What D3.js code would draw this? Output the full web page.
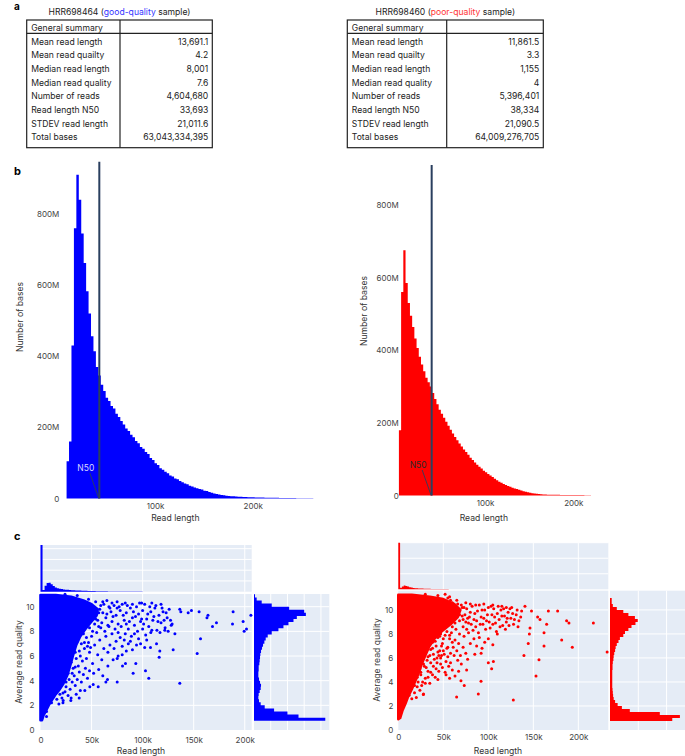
<!DOCTYPE html>
<html>
<head>
<meta charset="utf-8">
<script src="https://cdn.jsdelivr.net/npm/d3@7"></script>
<style>
body{margin:0;background:#fff;}
text{font-family:Inter,"Noto Sans",sans-serif;}
</style>
</head>
<body>
<div id="canvas"></div>
<script>
// ---- data ----
var summaryLabels = ['Mean read length','Mean read quailty','Median read length','Median read quality',
    'Number of reads','Read length N50','STDEV read length','Total bases'];
var goodSummary = ['13,691.1','4.2','8,001','7.6','4,604,680','33,693','21,011.6','63,043,334,395'];
var poorSummary = ['11,861.5','3.3','1,155','4','5,396,401','38,334','21,090.5','64,009,276,705'];

// weighted read-length histogram, bases (M) per 2.5k bin
var binWidth = 2.5;
var goodBinStart = 9.5;
var goodBases = [105,160,430,760,910,840,745,662,583,520,456,414,370,346,320,302,283,274,260,253,
    238,229,218,208,197,190,179,172,162,155,145,140,131,125,114,108,99,94,85,81,
    75,71,65,62,56,54,49,46,42,40,36,34,31,29,27,25,22,21,18,16,
    14,13,11,10,9,8,7,6.5,6,5.4,5,4.6,4.2,4,3.7,3.5,3.3,3.1,3,2.8,
    2.6,2.4,2.2,2.1,2,1.9,1.8,1.7,1.6,1.5,1.4,1.3,1.2,1.1,1,1,0.9,0.8,0.8,0.7,0.7];
var poorBinStart = 2.5;
var poorBases = [180,560,675,585,530,495,464,432,406,382,361,342,324,312,300,282,266,251,236,225,
    214,203,192,181,171,161,152,143,135,127,120,112,104,98,91,85,79,74,68,64,
    59,55,51,46,42,38,35,32,29,26,24,21,19,18,16,14,12,10.5,9,7.5,
    6.5,5.5,4.5,3.8,3.3,3,2.7,2.4,2.2,2,1.9,1.8,1.8,1.7,1.6,1.6,1.5,1.5,1.4,1.4,
    1.3,1.2,1.2,1.1,1,1,0.9];
var goodN50Mark = 43;   // k, where the N50 line sits on the axis
var poorN50Mark = 39.6;
var histYTicks = [0,200,400,600,800];
var histXTicks = [100,200];

// scatter: solid core outline [k, quality]
var goodCore = [[0,0.8],[1.5,0.8],[3,1.2],[5,1.5],[8,2.0],[11,2.4],[14,2.8],[18,3.2],[22,3.7],[26,4.4],
    [29,5.2],[32,6.1],[35,6.9],[39,7.6],[44,8.2],[50,8.8],[55,9.3],[56,9.8],[50,10.2],[42,10.5],
    [30,10.8],[15,10.95],[0,10.95]];
var goodPoints = [
    [13,2.7],[16,2.5],[19,2.9],[21,2.6],[24,3.1],[27,2.8],[25,3.5],[29,3.3],[31,3.9],[34,3.6],
    [33,4.4],[36,4.1],[38,4.7],[40,3.9],[42,4.5],[37,5.2],[44,5.0],[41,5.6],[46,4.2],[48,4.8],
    [39,3.2],[35,2.9],[30,2.6],[22,2.2],[18,2.1],
    [20,3.6],[23,4.3],[26,5.0],[28,5.8],[31,6.6],[33,7.3],[37,7.9],[41,8.4],[46,8.8],[52,9.3],
    [57,9.5],[59,10.1],[54,10.4],[47,10.6],[36,10.9],[24,11.0],
    [22,3.0],[25,3.9],[27,4.6],[30,5.5],[32,5.0],[34,6.3],[36,7.2],[38,6.4],[40,7.0],[42,7.8],
    [45,7.5],[48,8.3],[51,8.0],[53,8.6],[54,9.0],[57,8.4],[35,5.8],[39,6.0],[43,7.1],[46,6.8],
    [49,6.7],[28,4.1],[31,4.6],[34,5.1],
    [45,5.8],[48,6.3],[51,5.4],[53,6.9],[56,6.1],[58,7.3],[60,5.7],[62,6.6],[64,7.6],[66,5.2],
    [68,6.9],[70,7.8],[47,7.1],[50,7.6],[55,7.9],[43,6.6],[52,4.6],[57,4.9],[61,4.4],[66,6.3],
    [72,6.6],[74,7.2],[76,6.0],[78,7.5],[80,6.8],[63,8.0],[59,8.3],[67,8.4],
    [58,9.8],[62,10.2],[65,9.4],[68,9.9],[70,8.8],[72,10.1],[74,9.3],[76,8.6],[78,9.7],[80,10.2],
    [82,8.9],[84,9.5],[86,8.2],[88,9.9],[90,9.1],[92,8.5],[94,10.0],[96,9.4],[98,8.8],[100,9.7],
    [102,10.2],[104,9.0],[106,8.4],[108,9.6],[110,8.9],[112,9.9],[114,8.1],[116,9.3],[118,8.7],[120,9.6],
    [122,8.3],[124,9.1],[126,9.8],[128,8.5],
    [60,8.7],[64,9.1],[66,8.5],[69,9.6],[73,8.2],[75,9.9],[79,8.4],[81,9.3],[83,7.8],[85,10.1],
    [87,8.8],[89,7.6],[91,9.6],[93,9.2],[95,8.0],[97,10.3],[99,9.0],[101,8.6],[103,7.7],[105,9.4],
    [107,10.0],[109,8.1],[111,9.2],[113,10.1],[115,8.8],[117,7.9],[119,9.9],[121,8.9],[123,9.5],[125,8.0],
    [56,8.9],[61,9.5],[67,10.0],[71,9.2],[77,10.0],[84,8.6],[88,7.2],[92,7.8],[96,7.4],[100,8.2],
    [104,7.3],[108,7.9],[82,7.3],[76,7.9],[94,6.9],[98,7.0],[86,7.0],[90,6.5],[102,6.7],[80,6.1],[84,6.4],
    [61,10.4],[65,10.5],[70,10.3],[75,10.4],[83,10.3],[90,10.2],[99,10.3],[109,10.3],[118,10.2],
    [206,9.3],[199.4,8.0],[201.7,8.2],[198.4,8.8],[188.6,9.6],[188,8.6],[168.4,8.4],[172.3,8.7],[164,9.3],[163,9.1],
    [155.3,9.6],[147.8,9.7],[144.6,9.5],[136.4,9.8],[137.4,9.6],[156.7,7.4],[153.4,6.2],[136.4,3.8],[129.9,6.5],[131.6,7.8],
    [127.3,8.9],[128.9,8.6],[121.7,8.1],[116.2,5.9],[116.8,6.4],[113.6,7.0],[107.7,6.7],[106,4.2],[102.8,4.8],[93.3,5.4],
    [90.7,4.6],[83.2,5.4],[80.3,5.2],[75.1,3.9],[75.1,5.8],[71.1,5.7],[64,3.9],[65.6,4.1],[56.5,3.5],[51.6,3.7],
    [48.3,3.5],[43.4,3.2],[37.9,2.6],[29.7,2.4],[22.2,2.4],[10.8,2.2],[5.9,1.5],[5.9,1.1]];

var poorCore = [[0,0.9],[2,1.0],[4.5,1.6],[8,2.2],[11,2.8],[15,3.4],[19,4.1],[23,4.8],[26,5.5],[30,6.2],
    [34,6.9],[40,7.6],[48,8.2],[58,8.8],[66,9.4],[69,10.0],[62,10.5],[50,10.9],[35,11.1],[15,11.25],[0,11.25]];
var poorPoints = [
    [12,2.9],[15,2.6],[18,3.1],[21,3.6],[24,3.3],[27,4.0],[25,4.6],[30,4.3],[33,4.9],[29,5.3],
    [36,5.6],[38,4.6],[40,5.9],[35,3.9],[42,5.1],[45,6.2],[44,4.2],[47,5.5],[20,2.7],[28,3.0],
    [50,6.6],[53,5.7],[55,6.9],[48,7.0],[58,6.4],[52,4.8],[60,7.3],[57,4.3],
    [18,3.7],[21,4.4],[24,5.1],[27,5.9],[31,6.6],[35,7.3],[40,7.9],[45,8.4],[52,8.7],[56,9.2],
    [62,9.3],[68,9.6],[71,10.2],[65,10.8],[57,11.1],[44,11.2],[30,11.3],
    [22,4.0],[25,4.8],[28,5.5],[31,5.2],[33,6.1],[36,6.7],[38,7.3],[42,7.0],[44,7.7],[47,8.0],
    [50,7.6],[54,8.2],[57,7.9],[60,8.6],[63,8.9],[39,6.3],[43,6.0],[46,6.6],[48,6.2],[26,3.7],
    [30,3.9],[33,4.4],
    [38,6.8],[41,7.4],[44,6.5],[46,7.8],[49,7.2],[52,7.9],[54,6.8],[57,7.6],[59,8.1],[61,6.9],
    [63,7.5],[65,6.6],[67,7.2],[69,6.2],[72,6.9],[75,6.4],[77,5.9],[70,5.5],[66,5.8],[62,6.2],
    [58,5.6],[55,6.1],[51,6.3],[47,6.0],[43,5.6],[39,5.3],[36,4.8],[41,4.4],[45,4.9],[49,5.2],
    [53,4.6],[56,5.3],[60,5.0],[63,4.5],[67,4.9],[35,6.2],[32,5.8],
    [70,10.4],[74,9.6],[76,10.1],[78,8.9],[80,9.8],[82,10.3],[84,9.2],[86,8.6],[88,9.9],[90,10.4],
    [92,9.4],[94,8.8],[96,10.0],[98,9.1],[100,10.2],[102,8.5],[104,9.6],[106,10.1],[108,8.9],[110,9.7],
    [112,9.2],[114,10.0],[116,8.7],[118,9.5],[120,9.0],[122,9.8],[125,9.3],[128,8.8],[131,9.6],[134,9.1],
    [137,9.9],[126,10.2],[132,10.0],
    [72,8.6],[75,9.0],[79,9.4],[83,8.3],[85,9.7],[87,9.1],[89,8.1],[91,8.8],[93,10.0],[95,9.3],
    [97,8.4],[99,9.6],[101,9.0],[103,10.3],[105,8.8],[107,9.4],[109,8.2],[111,10.3],[113,8.6],[115,9.5],
    [117,10.1],[119,8.4],[121,9.3],[123,8.7],[127,9.7],[129,9.2],[133,8.6],[136,9.4],[124,10.1],
    [64,9.9],[66,10.5],[68,9.1],[71,9.5],[73,10.2],[77,9.3],[81,8.8],[60,10.6],[62,9.6],[58,10.8],
    [55,11.0],[52,11.3],[64,8.4],[68,8.0],[73,7.8],[78,8.1],[84,7.6],[90,7.7],[96,7.3],[80,7.2],
    [87,7.0],[93,6.8],[100,7.6],[105,7.1],[110,8.0],[92,6.4],[85,6.3],
    [75,10.6],[80,10.5],[86,10.4],[95,10.5],[105,10.4],[115,10.3],[120,10.2],[72,9.2],[76,8.4],
    [232,6.5],[216.7,8.9],[187,9.1],[189.6,8.9],[193.3,6.9],[181.5,7.5],[177,9.9],[166.7,9.9],[164.8,8.8],[161.9,8.1],
    [161.9,7.0],[157.4,9.2],[154.8,9.4],[148,9.9],[146.3,8.5],[145.6,8.0],[144.4,7.2],[156.3,5.85],[153,4.5],[139.6,6.2],
    [140.7,10.3],[127.8,2.5],[105.6,5.7],[103.7,5.1],[100,5.6],[91.9,4.05],[88.9,3.0],[75.9,5.0],[73.3,3.7],[69.6,4.1],
    [64.8,2.75],[27.8,2.95]];

// marginal histograms: read counts (k) per 2k length bin, per 0.25 quality bin
var lenBinWidth = 2, qualBinStart = 0.75, qualBinWidth = 0.25;
var goodLenCounts = [434,16,55,80,84,70,52,40,33,28,24,21,19,17,15,14,13,12,11,10,
    9.2,8.5,7.9,7.3,6.8,6.2,5.7,5.2,4.8,4.4,4.0,3.6,3.3,3.0,2.7,2.5,2.3,2.1,1.9,1.7,
    1.6,1.5,1.4,1.3,1.2,1.1,1.0,0.9,0.8,0.8,0.7,0.7,0.6,0.6,0.5,0.5,0.4,0.4,0.4,0.3];
var poorLenCounts = [300,10,18,24,22,18,14,11,9,7.5,6.5,5.8,5.2,4.6,4.1,3.7,3.3,3.0,2.7,2.4,
    2.2,2.0,1.8,1.6,1.5,1.4,1.3,1.2,1.1,1.0,0.9,0.8,0.7,0.7,0.6,0.6,0.5,0.5,0.4,0.4];
var goodQualCounts = [178,213,133,100,60,32,20,15,13,14,17,20,21,18,15,13,13,14,14,16,
    17,18,19,21,24,27,31,35,41,53,73,88,103,118,128,155,150,105,53,23,8,3];
var poorQualCounts = [150,220,247,176,70,42,27,18,13,11,10,9,8,8,8,8,8,8,9,9,
    10,12,13,15,18,20,24,30,35,47,53,65,76,90,98,88,65,47,24,10,6,6];
var scatterXTicks = [0,50,100,150,200];
var scatterYTicks = [0,2,4,6,8,10];

var blue = '#0000ff', red = '#ff0000', dark = '#2a3f5f', bg = '#e5ecf6';

var svg = d3.select('#canvas').append('svg')
    .attr('width',685)
    .attr('height',756);

// panel letters
svg.append('text').attr('x',14).attr('y',9.5).text('a').style('font-weight','bold').style('font-size','10px');
svg.append('text').attr('x',14).attr('y',175).text('b').style('font-weight','bold').style('font-size','11px');
svg.append('text').attr('x',14).attr('y',540).text('c').style('font-weight','bold').style('font-size','11px');

//a tables
function drawTable(x0, x1, xDiv, title, tag, tagColor, values){
    var g = svg.append('g');
    var t = g.append('text').attr('x',(x0+x1)/2).attr('y',14.5)
        .attr('text-anchor','middle').style('font-size','8.6px').attr('fill','#222');
    t.append('tspan').text(title + ' (');
    t.append('tspan').attr('fill',tagColor).text(tag);
    t.append('tspan').text(' sample)');
    g.append('rect').attr('x',x0).attr('y',20).attr('width',x1-x0).attr('height',127.7)
        .attr('fill','none').attr('stroke','#222').attr('stroke-width',1.2);
    g.append('line').attr('x1',xDiv).attr('x2',xDiv).attr('y1',20).attr('y2',147.7)
        .attr('stroke','#222').attr('stroke-width',1.2);
    g.append('line').attr('x1',x0).attr('x2',x1).attr('y1',33.3).attr('y2',33.3)
        .attr('stroke','#222').attr('stroke-width',1.2);
    g.append('text').attr('x',x0+4.5).attr('y',30.7).text('General summary')
        .style('font-size','8.6px').attr('fill','#222');
    summaryLabels.forEach(function(d,i){
        var y = 44.8 + i*13.66;
        g.append('text').attr('x',x0+4.5).attr('y',y).text(d).style('font-size','8.6px').attr('fill','#222');
        g.append('text').attr('x',x1-4).attr('y',y).text(values[i]).attr('text-anchor','end')
            .style('font-size','8.6px').attr('fill','#222');
    });
}
drawTable(26.7, 212.3, 120, 'HRR698464', 'good-quality', '#3333ff', goodSummary);
drawTable(347.3, 543.3, 446.7, 'HRR698460', 'poor-quality', '#ff3333', poorSummary);

//b histograms
function drawHist(o){
    var x = d3.scaleLinear().domain([0,o.xMax]).range([o.left,o.right]);
    var y = d3.scaleLinear().domain([0,o.yMax]).range([o.bottom,o.top]);
    var g = svg.append('g');
    // bins as one stepped shape so no seams show between bars
    var steps = o.bases.map(function(d,i){return [o.start + i*binWidth, d];});
    steps.push([o.start + o.bases.length*binWidth, o.bases[o.bases.length-1]]);
    g.append('path').datum(steps)
        .attr('d',d3.area().curve(d3.curveStepAfter)
            .x(function(d){return x(d[0]);}).y0(y(0)).y1(function(d){return y(d[1]);}))
        .attr('fill',o.color);

    var ya = g.append('g').attr('transform','translate('+(o.left+2)+',0)')
        .call(d3.axisLeft(y).tickValues(histYTicks).tickSize(0).tickPadding(0)
            .tickFormat(function(v){return v===0 ? '0' : v+'M';}));
    var xa = g.append('g').attr('transform','translate(0,'+o.bottom+')')
        .call(d3.axisBottom(x).tickValues(histXTicks).tickSize(0).tickPadding(5)
            .tickFormat(function(v){return v+'k';}));
    [ya,xa].forEach(function(a){
        a.select('.domain').remove();
        a.selectAll('text').style('font-size','8px').attr('fill','#444')
            .style('font-family','Inter,"Noto Sans",sans-serif');
    });

    // N50 marker
    var nx = x(o.n50);
    g.append('line').attr('x1',nx).attr('x2',nx).attr('y1',o.top).attr('y2',y(0))
        .attr('stroke',dark).attr('stroke-width',2);
    g.append('line').attr('x1',nx-9.5).attr('x2',nx-0.5).attr('y1',y(0)-25.5).attr('y2',y(0))
        .attr('stroke',dark).attr('stroke-width',0.9);
    g.append('text').attr('x',nx-13.5).attr('y',y(0)-28).attr('text-anchor','middle')
        .text('N50').style('font-size','8.5px').attr('fill',o.n50Color);

    g.append('text').attr('x',(o.left+o.right)/2 - 10).attr('y',521).attr('text-anchor','middle')
        .text('Read length').style('font-size','8.6px').attr('fill','#333');
    g.append('text').attr('transform','translate('+o.titleX+','+o.titleY+') rotate(-90)')
        .attr('text-anchor','middle').attr('dy','0.35em')
        .text('Number of bases').style('font-size','8.6px').attr('fill','#333');
}
drawHist({left:57.3, right:313.3, xMax:262, bottom:498.5, top:161.7, yMax:947,
    bases:goodBases, start:goodBinStart, color:blue, n50:goodN50Mark, n50Color:'#d8d8ff',
    titleX:19.5, titleY:317});
drawHist({left:396.7, right:591, xMax:220, bottom:495.5, top:165, yMax:910,
    bases:poorBases, start:poorBinStart, color:red, n50:poorN50Mark, n50Color:'#2a2a2a',
    titleX:364, titleY:311});

//c scatter with marginals
function drawScatter(o){
    var x = d3.scaleLinear().domain([0,o.xMax]).range([o.left,o.right]);
    var y = d3.scaleLinear().domain([0,o.yMax]).range([o.bottom,o.top]);
    var tc = d3.scaleLinear().domain([0,o.lenMax]).range([o.topBottom,o.topTop]);
    var rc = d3.scaleLinear().domain([0,o.qualMax]).range([o.rightLeft,o.rightRight]);
    var g = svg.append('g');

    // backgrounds
    g.append('rect').attr('x',o.left).attr('y',o.top).attr('width',o.right-o.left)
        .attr('height',o.bottom-o.top).attr('fill',bg);
    g.append('rect').attr('x',o.left).attr('y',o.topTop).attr('width',o.right-o.left)
        .attr('height',o.topBottom-o.topTop).attr('fill',bg);
    g.append('rect').attr('x',o.rightLeft).attr('y',o.top).attr('width',o.rightRight-o.rightLeft)
        .attr('height',o.bottom-o.top).attr('fill',bg);

    // grid
    scatterXTicks.slice(1).forEach(function(v){
        g.append('line').attr('x1',x(v)).attr('x2',x(v)).attr('y1',o.top).attr('y2',o.bottom)
            .attr('stroke','#fff').attr('stroke-width',1);
        g.append('line').attr('x1',x(v)).attr('x2',x(v)).attr('y1',o.topTop).attr('y2',o.topBottom)
            .attr('stroke','#fff').attr('stroke-width',1);
    });
    scatterYTicks.slice(1).forEach(function(v){
        g.append('line').attr('x1',o.left).attr('x2',o.right).attr('y1',y(v)).attr('y2',y(v))
            .attr('stroke','#fff').attr('stroke-width',1);
        g.append('line').attr('x1',o.rightLeft).attr('x2',o.rightRight).attr('y1',y(v)).attr('y2',y(v))
            .attr('stroke','#fff').attr('stroke-width',1);
    });
    tc.ticks(4).slice(1).forEach(function(v){
        g.append('line').attr('x1',o.left).attr('x2',o.right).attr('y1',tc(v)).attr('y2',tc(v))
            .attr('stroke','#fff').attr('stroke-width',1);
    });
    o.qualGrid.forEach(function(v){
        g.append('line').attr('x1',rc(v)).attr('x2',rc(v)).attr('y1',o.top).attr('y2',o.bottom)
            .attr('stroke','#fff').attr('stroke-width',1);
    });

    // points
    var plot = g.append('g');
    plot.append('path').datum(o.core)
        .attr('d',d3.line().x(function(d){return x(d[0]);}).y(function(d){return y(d[1]);}).curve(d3.curveLinearClosed))
        .attr('fill',o.color).attr('stroke',o.color).attr('stroke-width',2.6).attr('stroke-linejoin','round');
    plot.selectAll('circle').data(o.points).enter().append('circle')
        .attr('cx',function(d){return x(d[0]);})
        .attr('cy',function(d){return y(d[1]);})
        .attr('r',1.5)
        .attr('fill',o.color);

    // top marginal: read length counts
    var lenSteps = o.lenCounts.map(function(d,i){return [i*lenBinWidth, d];});
    lenSteps.push([o.lenCounts.length*lenBinWidth, 0]);
    g.append('path').datum(lenSteps)
        .attr('d',d3.area().curve(d3.curveStepAfter)
            .x(function(d){return x(d[0]);}).y0(tc(0)).y1(function(d){return tc(d[1]);}))
        .attr('fill',o.color);

    // right marginal: quality counts
    var qualSteps = o.qualCounts.map(function(d,i){return [qualBinStart + i*qualBinWidth, d];});
    qualSteps.push([qualBinStart + o.qualCounts.length*qualBinWidth, 0]);
    g.append('path').datum(qualSteps)
        .attr('d',d3.area().curve(d3.curveStepAfter)
            .y(function(d){return y(d[0]);}).x0(rc(0)).x1(function(d){return rc(d[1]);}))
        .attr('fill',o.color);

    // axes
    var xa = g.append('g').attr('transform','translate(0,'+o.bottom+')')
        .call(d3.axisBottom(x).tickValues(scatterXTicks).tickSize(0).tickPadding(o.xPad)
            .tickFormat(function(v){return v===0 ? '0' : v+'k';}));
    var ya = g.append('g').attr('transform','translate('+o.left+',0)')
        .call(d3.axisLeft(y).tickValues(scatterYTicks).tickSize(0).tickPadding(o.yPad));
    [xa,ya].forEach(function(a){
        a.select('.domain').remove();
        a.selectAll('text').style('font-size','8px').attr('fill','#444')
            .style('font-family','Inter,"Noto Sans",sans-serif');
    });
    g.append('text').attr('x',o.xTitle).attr('y',753.5).attr('text-anchor','middle')
        .text('Read length').style('font-size','8.6px').attr('fill','#333');
    g.append('text').attr('transform','translate('+o.yTitleX+','+o.yTitleY+') rotate(-90)')
        .attr('text-anchor','middle').attr('dy','0.35em')
        .text('Average read quality').style('font-size','8.6px').attr('fill','#333');
}
drawScatter({left:40.5, right:251.7, xMax:206.8, bottom:730, top:594, yMax:11.03,
    topTop:545, topBottom:591.7, lenMax:434,
    rightLeft:254, rightRight:329.3, qualMax:225, qualGrid:[50,100,150,200],
    core:goodCore, points:goodPoints, lenCounts:goodLenCounts, qualCounts:goodQualCounts,
    color:blue, xPad:7, yPad:6, xTitle:141, yTitleX:18.5, yTitleY:662});
drawScatter({left:398.3, right:608.3, xMax:233.3, bottom:730, top:590.7, yMax:11.6,
    topTop:542.7, topBottom:589.3, lenMax:300,
    rightLeft:610, rightRight:685, qualMax:265, qualGrid:[100,200],
    core:poorCore, points:poorPoints, lenCounts:poorLenCounts, qualCounts:poorQualCounts,
    color:red, xPad:4.5, yPad:5, xTitle:498, yTitleX:376.7, yTitleY:660});
</script>
</body>
</html>
